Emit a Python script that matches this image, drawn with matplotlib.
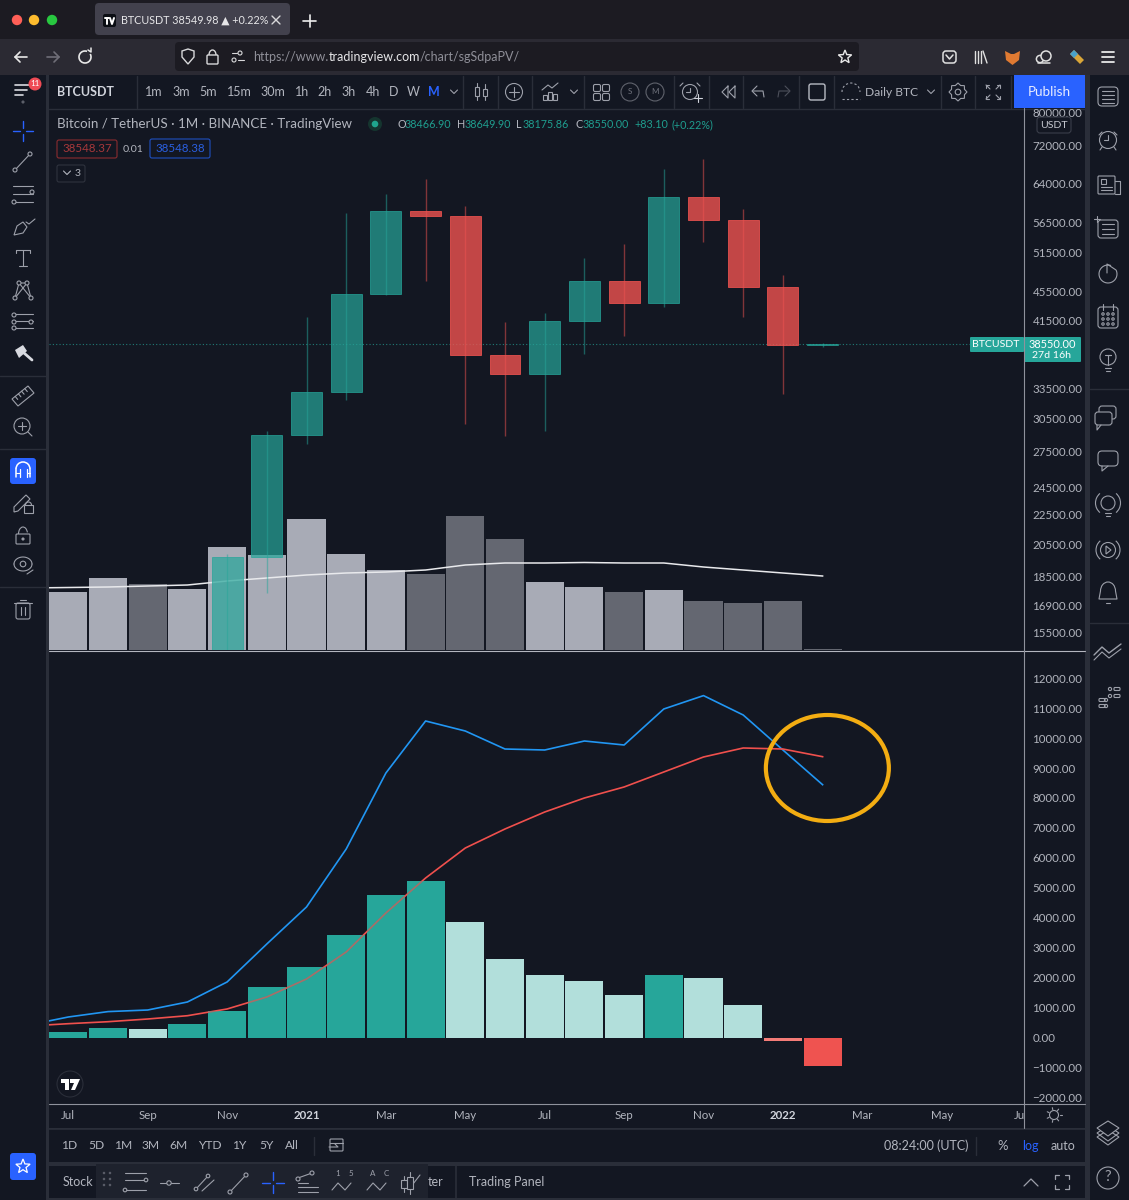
import numpy as np
import matplotlib
matplotlib.use("Agg")
import matplotlib.pyplot as plt
from matplotlib.patches import Circle, Rectangle, FancyBboxPatch, Ellipse, Polygon, Arc
from matplotlib.ticker import FixedLocator, FixedFormatter, NullLocator

# ---------- data ----------
time_labels = ["Jul","Sep","Nov","2021","Mar","May","Jul","Sep","Nov","2022","Mar","May","Jul"]
time_ticks = [0,2,4,6,8,10,12,14,16,18,20,22,24]
price_ticks = [80000,72000,64000,56500,51500,45500,41500,33500,30500,27500,24500,22500,20500,18500,16900,15500]
macd_ticks = [12000,11000,10000,9000,8000,7000,6000,5000,4000,3000,2000,1000,0,-1000,-2000]

candle_idx = list(range(4,20))
opens  = [13791,19698,28923,33092,45134,58739,57697,37253,35045,41461,47100,43820,61300,56950,46216,38466]
highs  = [19863,29300,41950,58352,61844,64854,59500,41330,42448,50500,52920,67000,69000,59053,48000,38650]
lows   = [13195,17572,28130,32296,44950,47000,30000,28805,29278,37332,39600,43283,53256,42000,32917,38175]
closes = [19698,28923,33092,45135,58740,57694,37254,35045,41461,47100,43824,61299,56950,46216,38466,38550]

bar_idx = list(range(0,20))
volume = [58,72,66,61,103,95,131,96,80,76,134,111,68,63,58,60,49,47,49,1]
vol_up = [1,1,0,1,1,1,1,1,1,0,0,0,1,1,0,1,0,0,0,0]
line_idx = list(range(-1,20))
vol_ma = [62,62.5,63,64,65,69,72,75,77,78,80,85,87,87,87.5,87,87,83,80,77,74]

macd = [433,700,880,933,1200,1867,3133,4367,6300,8833,10567,10233,9633,9600,9900,9767,10967,11413,10767,9600,8443]
signal = [400,477,543,633,743,967,1367,1967,2867,4167,5333,6333,6967,7533,8000,8367,8867,9367,9667,9633,9377]
hist = [200,333,300,467,900,1700,2367,3433,4767,5233,3867,2633,2100,1900,1433,2100,2000,1100,-100,-930]
hist_state = ["d","d","l","d","d","d","d","d","d","d","l","l","l","l","l","d","l","l","r","R"]

# ---------- style ----------
BG="#131722"; SEP="#2a2e39"; TXT="#b2b5be"; ICON="#9da0aa"; BLUE="#2962ff"; TEAL="#26a69a"; RED="#ef5350"
W,H=1129,1200
plt.rcParams['font.family']=['Lato','Noto Sans','DejaVu Sans']
fig=plt.figure(figsize=(W/100,H/100),dpi=100,facecolor="#2a2e39")

def px_axes(x0,y0,x1,y1,z):
    a=fig.add_axes([x0/W,1-y1/H,(x1-x0)/W,(y1-y0)/H],zorder=z)
    return a

ui=px_axes(0,0,W,H,0); ui.set_xlim(0,W); ui.set_ylim(H,0); ui.axis("off")
top=px_axes(0,0,W,H,10); top.set_xlim(0,W); top.set_ylim(H,0); top.axis("off"); top.patch.set_alpha(0)

def R(a,x0,y0,x1,y1,fc="none",ec="none",lw=0.8,r=0,z=2):
    if r:
        p=FancyBboxPatch((x0,y0),x1-x0,y1-y0,boxstyle=f"round,pad=0,rounding_size={r}",fc=fc,ec=ec,lw=lw,zorder=z)
    else:
        p=Rectangle((x0,y0),x1-x0,y1-y0,fc=fc,ec=ec,lw=lw,zorder=z)
    a.add_patch(p); return p
def L(a,xs,ys,c=ICON,lw=0.8,z=3,**k):
    a.plot(xs,ys,color=c,lw=lw,zorder=z,solid_capstyle="round",**k)
def C(a,x,y,r,fc="none",ec=ICON,lw=0.8,z=3):
    a.add_patch(Circle((x,y),r,fc=fc,ec=ec,lw=lw,zorder=z))
def T(a,x,y,s,size=12,c=TXT,ha="left",w="normal",z=4,**k):
    return a.text(x,y,s,fontsize=size*0.72,color=c,ha=ha,va="center",fontweight=w,zorder=z,**k)
def seq(a,x,y,parts,size):
    r=fig.canvas.get_renderer()
    for s,c in parts:
        t=T(a,x,y,s,size,c)
        x=t.get_window_extent(r).x1*(W/fig.bbox.width)

# browser chrome
R(ui,0,0,W,40,fc="#1c1b22",z=1)
R(ui,0,39,W,75,fc="#2b2a33",z=1)
R(ui,95,3,290,35,fc="#42414d",r=4)
for x,c in [(17,"#ff5f57"),(34,"#febc2e"),(52,"#28c840")]:
    C(ui,x,20,5.2,fc=c,ec="none")
R(ui,103,14,116,27,fc="#0b0e14",r=2)
L(ui,[105,109],[18,18],"white",1.4); L(ui,[107,107],[18,24],"white",1.4); L(ui,[110,112,114],[18,24,18],"white",1.4)
T(ui,121,20.5,"BTCUSDT 38549.98 ▲ +0.22%",10.8,"#e6e6e8")
L(ui,[272,280],[16,24],"#d8d8da",1); L(ui,[272,280],[24,16],"#d8d8da",1)
L(ui,[303,316],[21,21],"#eeeeee",1.2); L(ui,[309.5,309.5],[15,27],"#eeeeee",1.2)
R(ui,175,42,859,71,fc="#1c1b22",r=4)
L(ui,[15,27],[57,57],"#e8e8e8",1.2); L(ui,[20,15,20],[52,57,62],"#e8e8e8",1.2)
L(ui,[47,59],[57,57],"#6f6e78",1.2); L(ui,[54,59,54],[52,57,62],"#6f6e78",1.2)
ui.add_patch(Arc((85,57),12,12,theta1=-30,theta2=290,ec="#e8e8e8",lw=1.2,zorder=3)); L(ui,[88,91,91],[50,52,48],"#e8e8e8",1.1)
ui.add_patch(Polygon([[182,51],[188,49],[194,51],[194,57],[188,64],[182,57]],fc="none",ec="#d8d8da",lw=1,zorder=3))
R(ui,207,55,218,64,ec="#d8d8da",lw=1,r=1); ui.add_patch(Arc((212.5,55),7,10,theta1=180,theta2=360,ec="#d8d8da",lw=1,zorder=3))
C(ui,234,60,2,ec="#d8d8da"); C(ui,240,53,2,ec="#d8d8da"); L(ui,[232,237],[53,53],"#d8d8da"); L(ui,[238,244],[60,60],"#d8d8da")
seq(ui,253,57,[("https://www.","#8f8f98"),("tradingview.com","#e6e6e8"),("/chart/sgSdpaPV/","#8f8f98")],12.5)
sx=845;sy=57
ang=np.linspace(-np.pi/2,1.5*np.pi,11)
rad=np.array([7,3]*5+[7])
ui.add_patch(Polygon(np.c_[sx+rad*np.cos(ang),sy+rad*np.sin(ang)],fc="none",ec="#e8e8e8",lw=1,zorder=3))
# browser right icons
R(ui,943,51,956,63,ec="#e0e0e0",lw=1.1,r=3); L(ui,[946,949.5,953],[55,59,55],"#e0e0e0",1.1)
for x in (975,978,981): L(ui,[x,x],[51,63],"#e0e0e0",1)
L(ui,[983,987],[51,63],"#e0e0e0",1)
ui.add_patch(Polygon([[1005,51],[1011,54],[1014,54],[1020,51],[1019,60],[1012.5,65],[1006,60]],fc="#e07a32",ec="none",zorder=3))
C(ui,1040,59,3.6,ec="#e0e0e0",lw=1.1); C(ui,1046,56,5,fc="#2b2a33",ec="#e0e0e0",lw=1.1,z=4); L(ui,[1038,1050],[63,63],"#e0e0e0",1.1,z=5)
ui.add_patch(Polygon([[1070,54],[1074,50],[1084,60],[1080,64]],fc="#d9a638",ec="none",zorder=3))
ui.add_patch(Polygon([[1070,54],[1074,50],[1078,54],[1074,58]],fc="#4aa3c8",ec="none",zorder=3))
for y in (52,57,62): L(ui,[1102,1114],[y,y],"#e8e8e8",1.3)

# app frame
R(ui,0,75,46,1200,fc=BG,z=1)
R(ui,49,75,1085,1128,fc=BG,z=1)
R(ui,1090,75,W,1200,fc=BG,z=1)
R(ui,49,1129,1085,1162,fc=BG,z=1)
R(ui,49,1166,1085,1198,fc=BG,z=1)
L(ui,[49,1085],[108.5,108.5],SEP,1)
L(ui,[49,1085],[1128.5,1128.5],SEP,1.2)
for x in (137,463,498,532,584,674,709,743,799,834,941,975,1011):
    L(ui,[x,x],[76,108],SEP,1)

# ---------- chart panes (data drawn through scales) ----------
X0,X1=49,1024
month_px=39.7; zero_px=68.3
xlim=((X0-zero_px)/month_px,(X1-zero_px)/month_px)
YT,YM,YB=105,650,1103

ax_vol=px_axes(X0,YT,X1,YM,3)
ax_vol.set_facecolor("none")
ax_vol.set_xlim(*xlim); ax_vol.set_ylim(0,YM-YT)
ax_vol.set_xticks([]); ax_vol.set_yticks([])
for s in ax_vol.spines.values(): s.set_visible(False)
vcol=["#a8abb6" if u else "#646771" for u in vol_up]
ax_vol.bar(bar_idx,volume,width=0.96,color=vcol,linewidth=0)
ax_vol.plot(line_idx,vol_ma,color="#e8e9ec",lw=1.1)

ax_p=px_axes(X0,YT,X1,YM,4)
ax_p.set_facecolor("none")
ax_p.set_yscale("log")
ax_p.set_xlim(*xlim)
ptop=72000*np.exp((146-YT)/317); pbot=72000*np.exp((146-YM)/317)
ax_p.set_ylim(pbot,ptop)
for s in ax_p.spines.values(): s.set_visible(False)
ax_p.set_xticks([])
ax_p.yaxis.tick_right()
ax_p.yaxis.set_major_locator(FixedLocator(price_ticks))
ax_p.yaxis.set_major_formatter(FixedFormatter([f"{v}.00" for v in price_ticks]))
ax_p.yaxis.set_minor_locator(NullLocator())
ax_p.tick_params(axis="y",length=0,pad=6,labelsize=8.3,labelcolor=TXT)
for i,o,h,l,c in zip(candle_idx,opens,highs,lows,closes):
    up=c>=o
    col=TEAL if up else RED
    ax_p.vlines(i,l,h,color=col,lw=1,alpha=0.5,zorder=2)
    ax_p.bar(i,abs(c-o),bottom=min(o,c),width=0.78,color=col,alpha=0.7 if up else 0.8,edgecolor=col,linewidth=0.7,zorder=3)
ax_p.axhline(closes[-1],color=TEAL,lw=0.8,ls=(0,(1,2)),alpha=0.7,zorder=1)

ax_m=px_axes(X0,YM+1,X1,YB,4)
ax_m.set_facecolor("none")
ax_m.set_xlim(*xlim)
ax_m.set_ylim(-(YB-1038)/0.03,(1038-YM-1)/0.03)
for s in ax_m.spines.values(): s.set_visible(False)
hc={"d":TEAL,"l":"#b2dfdb","r":"#f47c78","R":RED}
hcols=[hc[k] for k in hist_state]
ax_m.bar(bar_idx,hist,width=0.96,color=hcols,linewidth=0,zorder=2)
ax_m.plot(line_idx,macd,color="#2196f3",lw=1.2,zorder=3)
ax_m.plot(line_idx,signal,color="#f0504d",lw=1.2,zorder=3)
ax_m.bar(bar_idx,hist,width=0.96,color=hcols,linewidth=0,alpha=0.35,zorder=3.5)
ax_m.add_patch(Ellipse((19.12,9000),123/month_px,106/0.03,fc="none",ec="#f3ad12",lw=3,zorder=4))
ax_m.yaxis.tick_right()
ax_m.set_yticks(macd_ticks,[f"{v:.2f}".replace("-","−") for v in macd_ticks])
ax_m.tick_params(axis="y",length=0,pad=6,labelsize=8.3,labelcolor=TXT)
ax_m.set_xticks(time_ticks,time_labels)
ax_m.tick_params(axis="x",length=0,pad=5,labelsize=8.3,labelcolor=TXT)
for lab,t in zip(ax_m.get_xticklabels(),time_labels):
    if t.isdigit():
        lab.set_fontweight("bold"); lab.set_color("#d1d4dc")

# overlays on top of charts
L(top,[49,1085],[650.5,650.5],"#b4b6bf",0.8)
L(top,[49,1085],[1103.5,1103.5],"#8f929c",0.8)
R(top,1024.5,1104,1085,1128,fc=BG,z=1)
L(top,[1023.5,1023.5],[108,1128],"#8f929c",0.8)
R(top,1037,117,1071,133,fc=BG,ec="#3a3e4a",lw=0.8,r=3)
T(top,1054,125,"USDT",10.5,"#c5c8d0",ha="center")
R(top,970,337,1024,352,fc=TEAL,r=1)
T(top,996,344.5,"BTCUSDT",10.5,"white",ha="center")
R(top,1024,337,1081,362,fc=TEAL,r=1)
T(top,1052,344,"38550.00",11,"white",ha="center")
T(top,1052,356,"27d 16h",10.5,"white",ha="center")
R(top,1014,75,1085,108,fc=BLUE)
T(top,1049,91.5,"Publish",13.5,"#e8ecff",ha="center")
C(top,1054,1115,4.5,ec=ICON)
for a_ in np.linspace(0,2*np.pi,8)[:-1]:
    L(top,[1054+5.5*np.cos(a_),1054+7.5*np.cos(a_)],[1115+5.5*np.sin(a_),1115+7.5*np.sin(a_)],ICON,0.8)

# top toolbar text
T(ui,57,92,"BTCUSDT",12.5,"#d1d4dc",w="bold")
for x,s in [(154,"1m"),(181,"3m"),(208,"5m"),(239,"15m"),(273,"30m"),(302,"1h"),(325,"2h"),(349,"3h"),(373,"4h"),(394,"D"),(413,"W")]:
    T(ui,x,92,s,12.5,TXT,ha="center")
T(ui,434,92,"M",12.5,"#2962ff",ha="center",w="bold")
def chev(a,x,y,c=ICON): L(a,[x-3.5,x,x+3.5],[y-2,y+1.5,y-2],c,0.8)
chev(ui,454,92); chev(ui,574,92); chev(ui,931,92)
# candle icon
L(ui,[477,477],[83,100]); R(ui,475,87,479,96,ec=ICON,fc=BG,z=4); L(ui,[485,485],[84,100]); R(ui,483,89,487,96,ec=ICON,fc=BG,z=4)
C(ui,514,92,8.5); L(ui,[514,514],[87,97]); L(ui,[509,519],[92,92])
for x,yy in [(545,95),(550,92),(555,94)]: R(ui,x-2,yy,x+2,100,ec=ICON)
L(ui,[542,548,552,558],[90,85,88,83])
for x in (597,606):
    for y in (88,97): R(ui,x-3.5,y-3.5,x+3.5,y+3.5,ec=ICON,r=1.5)
C(ui,630,92,9,ec="#5f626c"); T(ui,630,92,"S",8,"#6f727c",ha="center")
C(ui,655,92,9,ec="#5f626c"); T(ui,655,92,"M",8,"#6f727c",ha="center")
C(ui,690,92,7.5); L(ui,[690,690,686],[88,92,92]); L(ui,[683,680],[83,86]); L(ui,[697,700],[83,86]); L(ui,[698,698],[94,102],"#d1d4dc"); L(ui,[694,702],[98,98],"#d1d4dc")
L(ui,[728,722,728,728],[86,92,98,86]); L(ui,[735,729,735,735],[86,92,98,86])
L(ui,[753,763,764],[91,91,97]); L(ui,[757,752,757],[86,91,96])
L(ui,[789,779,778],[91,91,97],"#4c4f5a"); L(ui,[785,790,785],[86,91,96],"#4c4f5a")
R(ui,809,84,825,100,ec="#b8bbc4",lw=1,r=2)
ui.add_patch(Arc((851,92),18,18,theta1=180,theta2=360,ec=ICON,lw=0.8,ls=(0,(2,2)),zorder=3))
L(ui,[842,860],[99,99],ICON,0.8,ls=(0,(2,2)))
T(ui,865,92,"Daily BTC",12,TXT)
ang=np.linspace(0,2*np.pi,17); rad=np.where(np.arange(17)%2==0,9,7)
ui.add_patch(Polygon(np.c_[958+rad*np.cos(ang),92+rad*np.sin(ang)],fc="none",ec=ICON,lw=0.8,zorder=3)); C(ui,958,92,2.8)
for dx,dy in [(-1,-1),(1,-1),(-1,1),(1,1)]:
    L(ui,[993+dx*3,993+dx*7],[92+dy*3,92+dy*7]); L(ui,[993+dx*4,993+dx*7,993+dx*7],[92+dy*7,92+dy*7,92+dy*4])

# legend block
T(ui,57,124.5,"Bitcoin / TetherUS · 1M · BINANCE · TradingView",13.4,"#b2b5be")
C(ui,375,124,7,fc="#15352f",ec="none"); C(ui,375,124,3.3,fc="#1fa58d",ec="none")
for x,s in [(397,"O"),(457,"H"),(516,"L"),(575,"C")]:
    T(top,x,125,s,10.8,TXT)
for x,s in [(405,"38466.90"),(465,"38649.90"),(523,"38175.86"),(583,"38550.00"),(634,"+83.10"),(672,"(+0.22%)")]:
    T(top,x,125,s,10.8,"#1f9e8f")
R(top,57,140,117,158,ec="#8a2c2f",r=2); T(top,87,149,"38548.37",11.5,"#a8383b",ha="center")
T(top,133,149,"0.01",10.5,TXT,ha="center")
R(top,150,139,210,158,ec="#1e4fc0",r=2); T(top,180,149,"38548.38",11.5,"#2a5fe0",ha="center")
R(top,57,165,85,182,ec="#2f333e",r=2); chev(top,67,173,TXT); T(top,78,173.5,"3",10.5,TXT,ha="center")

# bottom rows
for x,s in [(70,"1D"),(96,"5D"),(124,"1M"),(151,"3M"),(179,"6M"),(210,"YTD"),(240,"1Y"),(266,"5Y"),(292,"All")]:
    T(ui,x,1145.5,s,12,TXT,ha="center")
R(ui,330,1139,343,1151,ec=ICON,r=1); L(ui,[330,343],[1143,1143]); L(ui,[329,338,335],[1147,1147,1144])
L(ui,[314,314],[1137,1155],SEP,1)
T(ui,926,1145.5,"08:24:00 (UTC)",12.5,TXT,ha="center")
L(ui,[976,976],[1137,1155],SEP,1)
T(ui,1003,1145.5,"%",13,TXT,ha="center"); T(ui,1030,1145.5,"log",12.5,"#2962ff",ha="center"); T(ui,1063,1145.5,"auto",12.5,TXT,ha="center")
T(ui,63,1182,"Stock",12.5,TXT)
T(ui,428,1182,"ter",12.5,TXT)
L(ui,[456,456],[1166,1198],SEP,1.2)
T(ui,507,1182,"Trading Panel",12.5,TXT,ha="center")
L(ui,[1024,1031,1038],[1186,1179,1186],ICON,0.9)
for dx,dy in [(-1,-1),(1,-1),(-1,1),(1,1)]:
    L(ui,[1062+dx*7,1062+dx*7,1062+dx*3],[1182+dy*3,1182+dy*7,1182+dy*7],ICON,0.9)
# floating drawing toolbar
R(top,96,1164,428,1198,fc="#1e222d",z=5)
ft=top
for i in (0,1,2):
    for x in (104,110): C(ft,x,1173+i*6,0.7,ec="#5a5d68",fc="#5a5d68",z=6)
for y in (1173,1180,1190): L(ft,[125,146],[y,y],ICON,z=6)
C(ft,125,1190,1.8,fc="#1e222d",z=7); C(ft,146,1180,1.8,fc="#1e222d",z=7)
L(ft,[160,179],[1183,1183],ICON,z=6); C(ft,169,1183,2.2,fc="#1e222d",z=7)
L(ft,[196,208],[1189,1176],ICON,z=6); L(ft,[202,214],[1191,1180],ICON,z=6)
C(ft,196,1189,1.8,fc="#1e222d",z=7);C(ft,208,1176,1.8,fc="#1e222d",z=7)
L(ft,[230,246],[1192,1175],ICON,z=6); C(ft,230,1192,2,fc="#1e222d",z=7); C(ft,246,1175,2,fc="#1e222d",z=7)
L(ft,[273,273],[1172,1180],"#2962ff",1,z=6);L(ft,[273,273],[1185,1193],"#2962ff",1,z=6);L(ft,[262,270],[1182.5,1182.5],"#2962ff",1,z=6);L(ft,[276,284],[1182.5,1182.5],"#2962ff",1,z=6)
for y in (1187,1192): L(ft,[298,318],[y,y],ICON,z=6)
L(ft,[298,312],[1178,1173],ICON,z=6); L(ft,[298,308],[1183,1183],ICON,z=6); C(ft,312,1173,2,fc="#1e222d",z=7); C(ft,298,1179,2,fc="#1e222d",z=7)
for x0,a_,b_ in [(332,"1","5"),(367,"A","C")]:
    L(ft,[x0,x0+6,x0+13,x0+19],[1190,1183,1190,1183],ICON,z=6)
    T(ft,x0+6,1173,a_,8,ICON,ha="center",z=7); T(ft,x0+19,1173,b_,8,ICON,ha="center",z=7)
L(ft,[410,410],[1172,1194],ICON,z=6); R(ft,407,1177,413,1189,fc="#1e222d",ec=ICON,z=7)
L(ft,[404,404],[1176,1192],ICON,z=6); R(ft,401,1180,407,1188,fc="#1e222d",ec=ICON,z=6)
L(ft,[413,420],[1184,1175],ICON,z=6)

# TV logo
C(top,70,1084,13,fc=BG,ec="#2a2e39",lw=0.8)
top.add_patch(Polygon([[61,1079],[69,1079],[69,1090],[65,1090],[65,1083],[61,1083]],fc="white",ec="none",zorder=5))
top.add_patch(Polygon([[70,1079],[80,1079],[75,1090],[71,1090],[74,1083],[70,1083]],fc="white",ec="none",zorder=5))

# left toolbar
for y in (85,90,95): L(ui,[15,31 if y==85 else (27 if y==90 else 23)],[y,y],"#d8dae0",1.2)
C(ui,23,102,1,fc="#5f626c",ec="#5f626c")
C(top,35,84,6.5,fc="#ef4b55",ec="none"); T(top,35,84,"11",8,"white",ha="center")
L(ui,[23,23],[121,128],BLUE,1);L(ui,[23,23],[134,141],BLUE,1);L(ui,[13,20],[131,131],BLUE,1);L(ui,[26,33],[131,131],BLUE,1)
L(ui,[15,30],[170,154]); C(ui,15,170,2,fc=BG); C(ui,30,154,2,fc=BG)
for y in (186,194,202): L(ui,[13,33],[y,y])
C(ui,32,192,2,fc=BG); C(ui,14,202,2,fc=BG)
ui.add_patch(Polygon([[14,235],[17,226],[23,222],[27,227],[23,233]],fc="none",ec=ICON,lw=0.8,zorder=3)); L(ui,[26,29,35],[222,224,219])
L(ui,[16,30],[250,250]);L(ui,[23,23],[250,266]);L(ui,[19,27],[266,266]);L(ui,[16,16],[250,253]);L(ui,[30,30],[250,253])
pts=[(15,298),(19,283),(27,283),(31,298)]
L(ui,[p[0] for p in pts],[p[1] for p in pts]); L(ui,[15,27],[298,283]);L(ui,[19,31],[283,298])
for p in pts: C(ui,p[0],p[1],2,fc=BG,z=4)
for y in (314,321,328): L(ui,[13,33],[y,y])
for p in [(14,315),(14,322),(31,322),(14,328)]: C(ui,p[0],p[1],2,fc=BG,z=4)
ui.add_patch(Polygon([[15,350],[23,345],[27,351],[19,358]],fc="#d8dae0",ec="none",zorder=3)); L(ui,[24,32],[353,360],"#d8dae0",2)
for y in (376,449,587): L(ui,[0,46],[y,y],SEP,1)
ui.add_patch(Polygon([[12,399],[28,386],[34,393],[18,406]],fc="none",ec=ICON,lw=0.8,zorder=3))
for t_ in (.2,.4,.6,.8): L(ui,[12+16*t_,14.5+16*t_],[399-13*t_,402-13*t_],ICON,0.8)
C(ui,22,426,8); L(ui,[28,32],[432,436]); L(ui,[22,22],[422,430]); L(ui,[18,26],[426,426])
R(ui,10,458,36,484,fc=BLUE,r=3)
ui.add_patch(Arc((23,469),14,14,theta1=180,theta2=360,ec="white",lw=1.1,zorder=4))
L(ui,[16,16],[469,477],"white",1.1,z=4);L(ui,[30,30],[469,477],"white",1.1,z=4)
L(ui,[19.5,19.5],[469,477],"white",0.9,z=4);L(ui,[26.5,26.5],[469,477],"white",0.9,z=4);L(ui,[16,19.5],[473,473],"white",0.8,z=4);L(ui,[26.5,30],[473,473],"white",0.8,z=4)
ui.add_patch(Polygon([[14,507],[26,495],[30,499],[18,511],[14,512]],fc="none",ec=ICON,lw=0.8,zorder=3))
R(ui,24,505,33,513,fc=BG,ec=ICON,z=4); ui.add_patch(Arc((28.5,505),6,6,theta1=180,theta2=360,ec=ICON,lw=0.8,zorder=4))
R(ui,16,534,30,544,ec=ICON,r=1); ui.add_patch(Arc((23,534),9,14,theta1=180,theta2=340,ec=ICON,lw=0.8,zorder=3)); C(ui,23,539,1,fc=ICON)
ang=np.linspace(0,np.pi,20)
L(ui,14+9*(1+np.cos(ang)),564-7*np.sin(ang)); L(ui,14+9*(1+np.cos(ang)),564+7*np.sin(ang)); C(ui,23,564,2.8)
L(ui,[27,33],[574,570])
R(ui,16,603,30,619,ec=ICON,r=2); L(ui,[14,32],[603,603]); L(ui,[20,26],[600,600]); L(ui,[21,21],[607,615]); L(ui,[25,25],[607,615])
R(ui,10,1153,36,1180,fc=BLUE,r=3)
ang=np.linspace(-np.pi/2,1.5*np.pi,11); rad=np.array([7.5,3.2]*5+[7.5])
ui.add_patch(Polygon(np.c_[23+rad*np.cos(ang),1166.5+rad*np.sin(ang)],fc="none",ec="white",lw=0.9,zorder=4))

# right sidebar
cx=1108
R(ui,cx-10,87,cx+10,106,ec=ICON,r=4)
for y in (91,95,99,103): L(ui,[cx-6,cx+6],[y,y],ICON)
C(ui,cx,140,8.5); L(ui,[cx,cx,cx-4],[135,140,140]); L(ui,[cx-6,cx-9],[132,135]); L(ui,[cx+6,cx+9],[132,135]); L(ui,[cx-6,cx-8],[147,150]); L(ui,[cx+6,cx+8],[147,150])
R(ui,cx-10,176,cx+7,194,ec=ICON,r=1); L(ui,[cx+7,cx+12,cx+12,cx+7],[181,181,194,194]); R(ui,cx-7,179,cx-2,184,ec=ICON)
for y in (187,190): L(ui,[cx-7,cx+4],[y,y])
R(ui,cx-10,220,cx+10,238,ec=ICON,r=3)
for y in (224,229,234): L(ui,[cx-6,cx+6],[y,y])
L(ui,[cx-14,cx-8],[219,219]);L(ui,[cx-11,cx-11],[216,222])
ang=np.linspace(-0.4,1.5*np.pi+.3,30)
L(ui,cx+9*np.cos(ang),274+9*np.sin(ang)); L(ui,[cx+8,cx-1,cx-1],[270,264,273])
R(ui,cx-10,307,cx+10,328,ec=ICON,r=3); L(ui,[cx-5,cx-5],[304,310]); L(ui,[cx+5,cx+5],[304,310])
for yy in (314,319,324):
    for dx in (-5,0,5): C(ui,cx+dx,yy,1.2)
C(ui,cx,357,8); L(ui,[cx-3,cx+3],[368,368]); L(ui,[cx-2,cx+2],[371,371]); L(ui,[cx-3,cx+3,cx,cx],[355,355,355,365])
L(ui,[1090,W],[389,389],SEP,1)
R(ui,cx-9,406,cx+8,419,ec=ICON,r=3); R(ui,cx-13,412,cx+4,425,fc=BG,ec=ICON,r=3,z=3); L(ui,[cx-11,cx-11,cx-7],[425,430,425],z=4)
R(ui,cx-10,451,cx+10,466,ec=ICON,r=4); L(ui,[cx-6,cx-6,cx],[466,471,466])
C(ui,cx,503,7); L(ui,[cx-3,cx+3],[513,513]); L(ui,[cx-2,cx+2],[516,516])
ui.add_patch(Arc((cx,503),25,25,theta1=130,theta2=230,ec=ICON,lw=0.8,zorder=3)); ui.add_patch(Arc((cx,503),25,25,theta1=-50,theta2=50,ec=ICON,lw=0.8,zorder=3))
C(ui,cx,550,7.5); ui.add_patch(Polygon([[cx-2,546],[cx+3,550],[cx-2,554]],fc="none",ec=ICON,lw=0.8,zorder=3))
ui.add_patch(Arc((cx,550),24,24,theta1=130,theta2=230,ec=ICON,lw=0.8,zorder=3)); ui.add_patch(Arc((cx,550),24,24,theta1=-50,theta2=50,ec=ICON,lw=0.8,zorder=3))
ui.add_patch(Arc((cx,591),15,18,theta1=180,theta2=360,ec=ICON,lw=0.8,zorder=3)); L(ui,[cx-7.5,cx-9,cx+9,cx+7.5],[591,599,599,591]); L(ui,[cx-2,cx+2],[603,603])
L(ui,[1090,W],[623,623],SEP,1)
L(ui,[cx-14,cx-6,cx+1,cx+13],[655,647,653,644],ICON,1); L(ui,[cx-14,cx-6,cx+1,cx+13],[660,652,658,649],ICON,0.8)
for y_,x_s in [(689,[(cx+2,"d"),(cx+7,"p")]),(696,[(cx+2,"d"),(cx+7,"p")]),(700,[(cx-8,"p"),(cx-2,"d")]),(706,[(cx-8,"p"),(cx-2,"d")])]:
    for xp,k in x_s:
        if k=="d": C(ui,xp,y_,1.6)
        else: R(ui,xp-1,y_-1.5,xp+5,y_+1.5,ec=ICON,r=1)
for y,fc in [(1137,"none"),(1133,"none"),(1128,BG)]:
    ui.add_patch(Polygon([[cx-11,y],[cx,y-7],[cx+11,y],[cx,y+8]],fc=fc,ec=ICON,lw=0.8,zorder=3))
C(ui,cx,1178,11); T(ui,cx,1177,"?",15,ICON,ha="center")

fig.savefig("out.png",dpi=100,facecolor=fig.get_facecolor())
